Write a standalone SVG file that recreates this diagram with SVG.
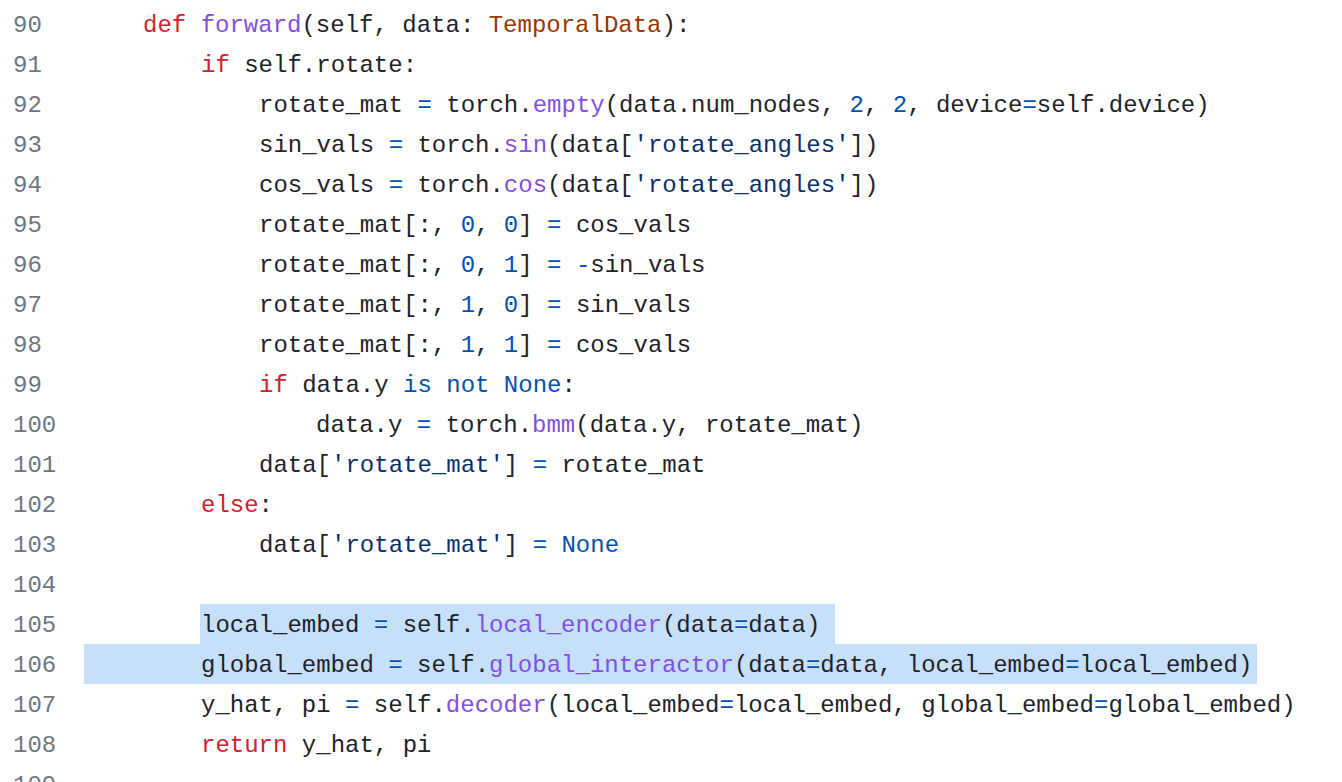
<svg xmlns="http://www.w3.org/2000/svg" width="1342" height="782" viewBox="0 0 1342 782">
<style>
text{font-family:"Liberation Mono","DejaVu Sans Mono",monospace;font-size:24px;fill:#1f2328;white-space:pre}
.n{fill:#6e7781}.k{fill:#cf222e}.f{fill:#8250df}.t{fill:#953800}.o{fill:#0550ae}.s{fill:#0a3069}
</style>
<rect width="1342" height="782" fill="#ffffff"/>
<rect x="200" y="604" width="635" height="40" fill="#c6e0fb"/>
<rect x="84" y="644" width="1173" height="40" fill="#c6e0fb"/>
<g id="numbers">
<text class="n" x="13" y="32">90</text>
<text class="n" x="13" y="72">91</text>
<text class="n" x="13" y="112">92</text>
<text class="n" x="13" y="152">93</text>
<text class="n" x="13" y="192">94</text>
<text class="n" x="13" y="232">95</text>
<text class="n" x="13" y="272">96</text>
<text class="n" x="13" y="312">97</text>
<text class="n" x="13" y="352">98</text>
<text class="n" x="13" y="392">99</text>
<text class="n" x="13" y="432">100</text>
<text class="n" x="13" y="472">101</text>
<text class="n" x="13" y="512">102</text>
<text class="n" x="13" y="552">103</text>
<text class="n" x="13" y="592">104</text>
<text class="n" x="13" y="632">105</text>
<text class="n" x="13" y="672">106</text>
<text class="n" x="13" y="712">107</text>
<text class="n" x="13" y="752">108</text>
<text class="n" x="13" y="792">109</text>
</g>
<g id="code">
<text x="143" y="32"><tspan class="k">def</tspan> <tspan class="f">forward</tspan>(self, data: <tspan class="t">TemporalData</tspan>):</text>
<text x="201" y="72"><tspan class="k">if</tspan> self.rotate:</text>
<text x="259" y="112">rotate_mat <tspan class="o">=</tspan> torch.<tspan class="f">empty</tspan>(data.num_nodes, <tspan class="o">2</tspan>, <tspan class="o">2</tspan>, device<tspan class="o">=</tspan>self.device)</text>
<text x="259" y="152">sin_vals <tspan class="o">=</tspan> torch.<tspan class="f">sin</tspan>(data[<tspan class="s">'rotate_angles'</tspan>])</text>
<text x="259" y="192">cos_vals <tspan class="o">=</tspan> torch.<tspan class="f">cos</tspan>(data[<tspan class="s">'rotate_angles'</tspan>])</text>
<text x="259" y="232">rotate_mat[:, <tspan class="o">0</tspan>, <tspan class="o">0</tspan>] <tspan class="o">=</tspan> cos_vals</text>
<text x="259" y="272">rotate_mat[:, <tspan class="o">0</tspan>, <tspan class="o">1</tspan>] <tspan class="o">=</tspan> <tspan class="o">-</tspan>sin_vals</text>
<text x="259" y="312">rotate_mat[:, <tspan class="o">1</tspan>, <tspan class="o">0</tspan>] <tspan class="o">=</tspan> sin_vals</text>
<text x="259" y="352">rotate_mat[:, <tspan class="o">1</tspan>, <tspan class="o">1</tspan>] <tspan class="o">=</tspan> cos_vals</text>
<text x="259" y="392"><tspan class="k">if</tspan> data.y <tspan class="o">is not</tspan> <tspan class="o">None</tspan>:</text>
<text x="316" y="432">data.y <tspan class="o">=</tspan> torch.<tspan class="f">bmm</tspan>(data.y, rotate_mat)</text>
<text x="259" y="472">data[<tspan class="s">'rotate_mat'</tspan>] <tspan class="o">=</tspan> rotate_mat</text>
<text x="201" y="512"><tspan class="k">else</tspan>:</text>
<text x="259" y="552">data[<tspan class="s">'rotate_mat'</tspan>] <tspan class="o">=</tspan> <tspan class="o">None</tspan></text>
<text x="201" y="632">local_embed <tspan class="o">=</tspan> self.<tspan class="f">local_encoder</tspan>(data<tspan class="o">=</tspan>data)</text>
<text x="201" y="672">global_embed <tspan class="o">=</tspan> self.<tspan class="f">global_interactor</tspan>(data<tspan class="o">=</tspan>data, local_embed<tspan class="o">=</tspan>local_embed)</text>
<text x="201" y="712">y_hat, pi <tspan class="o">=</tspan> self.<tspan class="f">decoder</tspan>(local_embed<tspan class="o">=</tspan>local_embed, global_embed<tspan class="o">=</tspan>global_embed)</text>
<text x="201" y="752"><tspan class="k">return</tspan> y_hat, pi</text>
</g>
</svg>
